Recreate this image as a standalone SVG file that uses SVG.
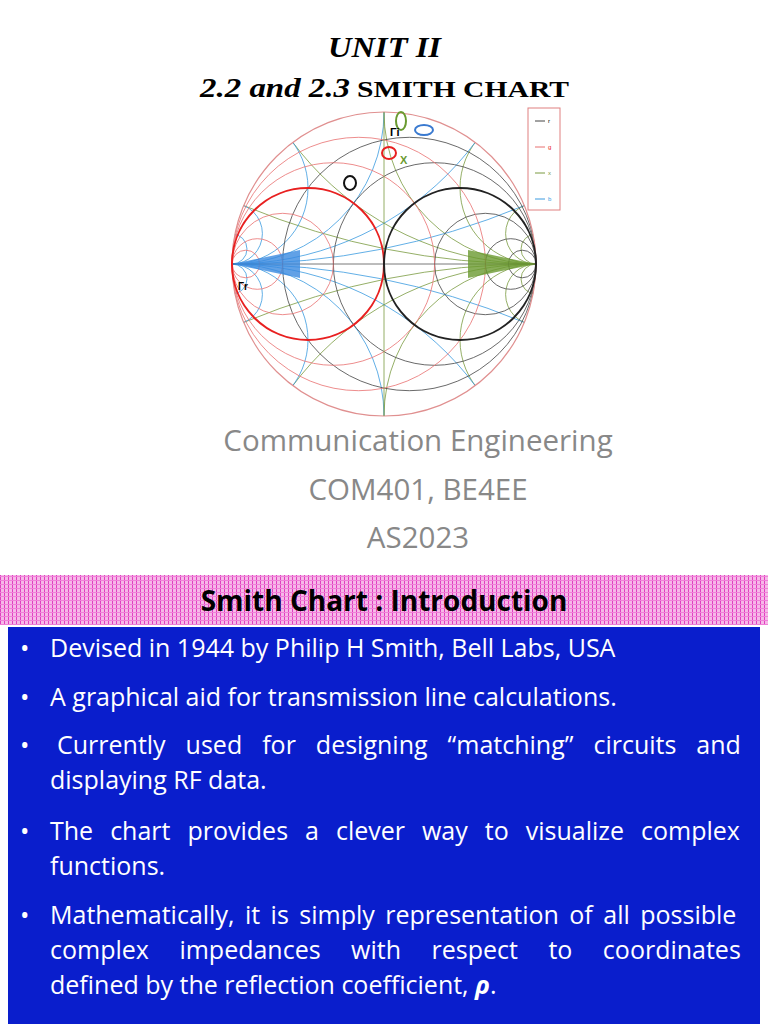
<svg xmlns="http://www.w3.org/2000/svg" width="768" height="1024" viewBox="0 0 768 1024">
<defs>
<clipPath id="cc"><circle cx="384" cy="264" r="152"/></clipPath>
<pattern id="pk" width="4" height="4" patternUnits="userSpaceOnUse"><rect width="4" height="4" fill="#f6b8e8"/><rect width="1" height="4" fill="#e040c0"/><rect width="4" height="1" fill="#f080d8"/></pattern>
</defs>
<style>
.r{fill:none;stroke:#444;stroke-width:0.8}
.g{fill:none;stroke:#e87070;stroke-width:0.8}
.x{fill:none;stroke:#7a9a40;stroke-width:0.8}
.b{fill:none;stroke:#3a9ae0;stroke-width:0.8}
.w{fill:#fff;font-family:'Open Sans',sans-serif;font-size:25px}
.sub{fill:#888;font-family:'Open Sans',sans-serif;font-size:29.5px;text-anchor:middle}
.tm{font-family:'Liberation Serif',serif;font-weight:bold;fill:#000}
</style>
<rect width="768" height="1024" fill="#fff"/>
<text class="tm" x="328" y="57" font-size="30" font-style="italic" textLength="113" lengthAdjust="spacingAndGlyphs">UNIT II</text>
<text class="tm" x="200" y="97" font-size="28" font-style="italic" textLength="150" lengthAdjust="spacingAndGlyphs">2.2 and 2.3</text>
<text class="tm" x="357" y="97" font-size="24" textLength="212" lengthAdjust="spacingAndGlyphs">SMITH CHART</text>
<g id="chart">
<g clip-path="url(#cc)">
<g class="x">
<circle cx="536" cy="-496" r="760"/><circle cx="536" cy="1024" r="760"/>
<circle cx="536" cy="-40" r="304"/><circle cx="536" cy="568" r="304"/>
<circle cx="536" cy="112" r="152"/><circle cx="536" cy="416" r="152"/>
<circle cx="536" cy="188" r="76"/><circle cx="536" cy="340" r="76"/>
<circle cx="536" cy="233.6" r="30.4"/><circle cx="536" cy="294.4" r="30.4"/>
<circle cx="536" cy="249" r="15"/><circle cx="536" cy="279" r="15"/>
</g>
<g class="b">
<circle cx="232" cy="-496" r="760"/><circle cx="232" cy="1024" r="760"/>
<circle cx="232" cy="-40" r="304"/><circle cx="232" cy="568" r="304"/>
<circle cx="232" cy="112" r="152"/><circle cx="232" cy="416" r="152"/>
<circle cx="232" cy="188" r="76"/><circle cx="232" cy="340" r="76"/>
<circle cx="232" cy="233.6" r="30.4"/><circle cx="232" cy="294.4" r="30.4"/>
<circle cx="232" cy="249" r="15"/><circle cx="232" cy="279" r="15"/>
</g>
</g>
<g class="r">
<circle cx="409.3" cy="264" r="126.7"/><circle cx="434.7" cy="264" r="101.3"/>
<circle cx="485.3" cy="264" r="50.7"/><circle cx="510.7" cy="264" r="25.3"/><circle cx="522.2" cy="264" r="13.8"/>
</g>
<g class="g">
<circle cx="358.7" cy="264" r="126.7"/><circle cx="333.3" cy="264" r="101.3"/>
<circle cx="282.7" cy="264" r="50.7"/><circle cx="257.3" cy="264" r="25.3"/><circle cx="245.8" cy="264" r="13.8"/>
</g>
<circle cx="384" cy="264" r="152" fill="none" stroke="#e09090" stroke-width="1.2"/>
<line x1="232" y1="264" x2="536" y2="264" stroke="#555" stroke-width="0.8"/>
<line x1="384" y1="112" x2="384" y2="416" stroke="#7a9a40" stroke-width="0.8"/>
<path d="M232,264 L300,250 L300,278 Z" fill="#3a8ae0" opacity="0.8"/>
<path d="M536,264 L468,250 L468,278 Z" fill="#6a9a30" opacity="0.8"/>
<circle cx="308" cy="264" r="76" fill="none" stroke="#e82020" stroke-width="2"/>
<circle cx="460" cy="264" r="76" fill="none" stroke="#222" stroke-width="2"/>
<ellipse cx="401" cy="121" rx="5" ry="9" fill="none" stroke="#6a9a30" stroke-width="2"/>
<ellipse cx="424" cy="130" rx="9" ry="5" fill="none" stroke="#3a7ad0" stroke-width="2"/>
<ellipse cx="389" cy="153" rx="7" ry="6" fill="none" stroke="#e82020" stroke-width="2"/>
<ellipse cx="350" cy="183" rx="6" ry="7" fill="none" stroke="#111" stroke-width="2"/>
<text x="390" y="136" font-family="Liberation Sans,sans-serif" font-size="11" font-weight="bold">Γi</text>
<text x="238" y="290" font-family="Liberation Sans,sans-serif" font-size="10" font-weight="bold">Γr</text>
<text x="400" y="164" font-family="Liberation Sans,sans-serif" font-size="11" fill="#6a9a30" font-weight="bold">X</text>
<rect x="528" y="108" width="32" height="102" fill="#fff" stroke="#e08080"/>
<g font-family="Liberation Sans,sans-serif" font-size="6">
<line x1="535" y1="121" x2="545" y2="121" stroke="#444"/><text x="548" y="123">r</text>
<line x1="535" y1="147" x2="545" y2="147" stroke="#e87070"/><text x="548" y="149" fill="#e82020">g</text>
<line x1="535" y1="173" x2="545" y2="173" stroke="#7a9a40"/><text x="548" y="175" fill="#7a9a40">x</text>
<line x1="535" y1="199" x2="545" y2="199" stroke="#3a9ae0"/><text x="548" y="201" fill="#3a9ae0">b</text>
</g>
</g>
<text class="sub" x="418" y="451">Communication Engineering</text>
<text class="sub" x="418" y="500">COM401, BE4EE</text>
<text class="sub" x="418" y="548">AS2023</text>
<rect x="0" y="575" width="768" height="50" fill="url(#pk)"/>
<text x="384" y="611" text-anchor="middle" font-family="'Open Sans',sans-serif" font-weight="bold" font-size="28" fill="#000">Smith Chart : Introduction</text>
<rect x="8" y="627" width="752" height="397" fill="#0a1ecc"/>
<g class="w">
<text x="20" y="657">•</text><text x="50" y="657">Devised in 1944 by Philip H Smith, Bell Labs, USA</text>
<text x="20" y="706">•</text><text x="50" y="706">A graphical aid for transmission line calculations.</text>
<text x="20" y="754">•</text>
<text x="57" y="754" word-spacing="13.5">Currently used for designing “matching” circuits and</text>
<text x="50" y="789">displaying RF data.</text>
<text x="20" y="840">•</text>
<text x="50" y="840" word-spacing="10.5">The chart provides a clever way to visualize complex</text>
<text x="50" y="875">functions.</text>
<text x="20" y="924">•</text><text x="50" y="924" word-spacing="4">Mathematically, it is simply representation of all possible</text>
<text x="50" y="959" word-spacing="24">complex impedances with respect to coordinates</text>
<text x="50" y="994">defined by the reflection coefficient, <tspan font-weight="bold" font-style="italic">ρ</tspan>.</text>
</g>
</svg>
